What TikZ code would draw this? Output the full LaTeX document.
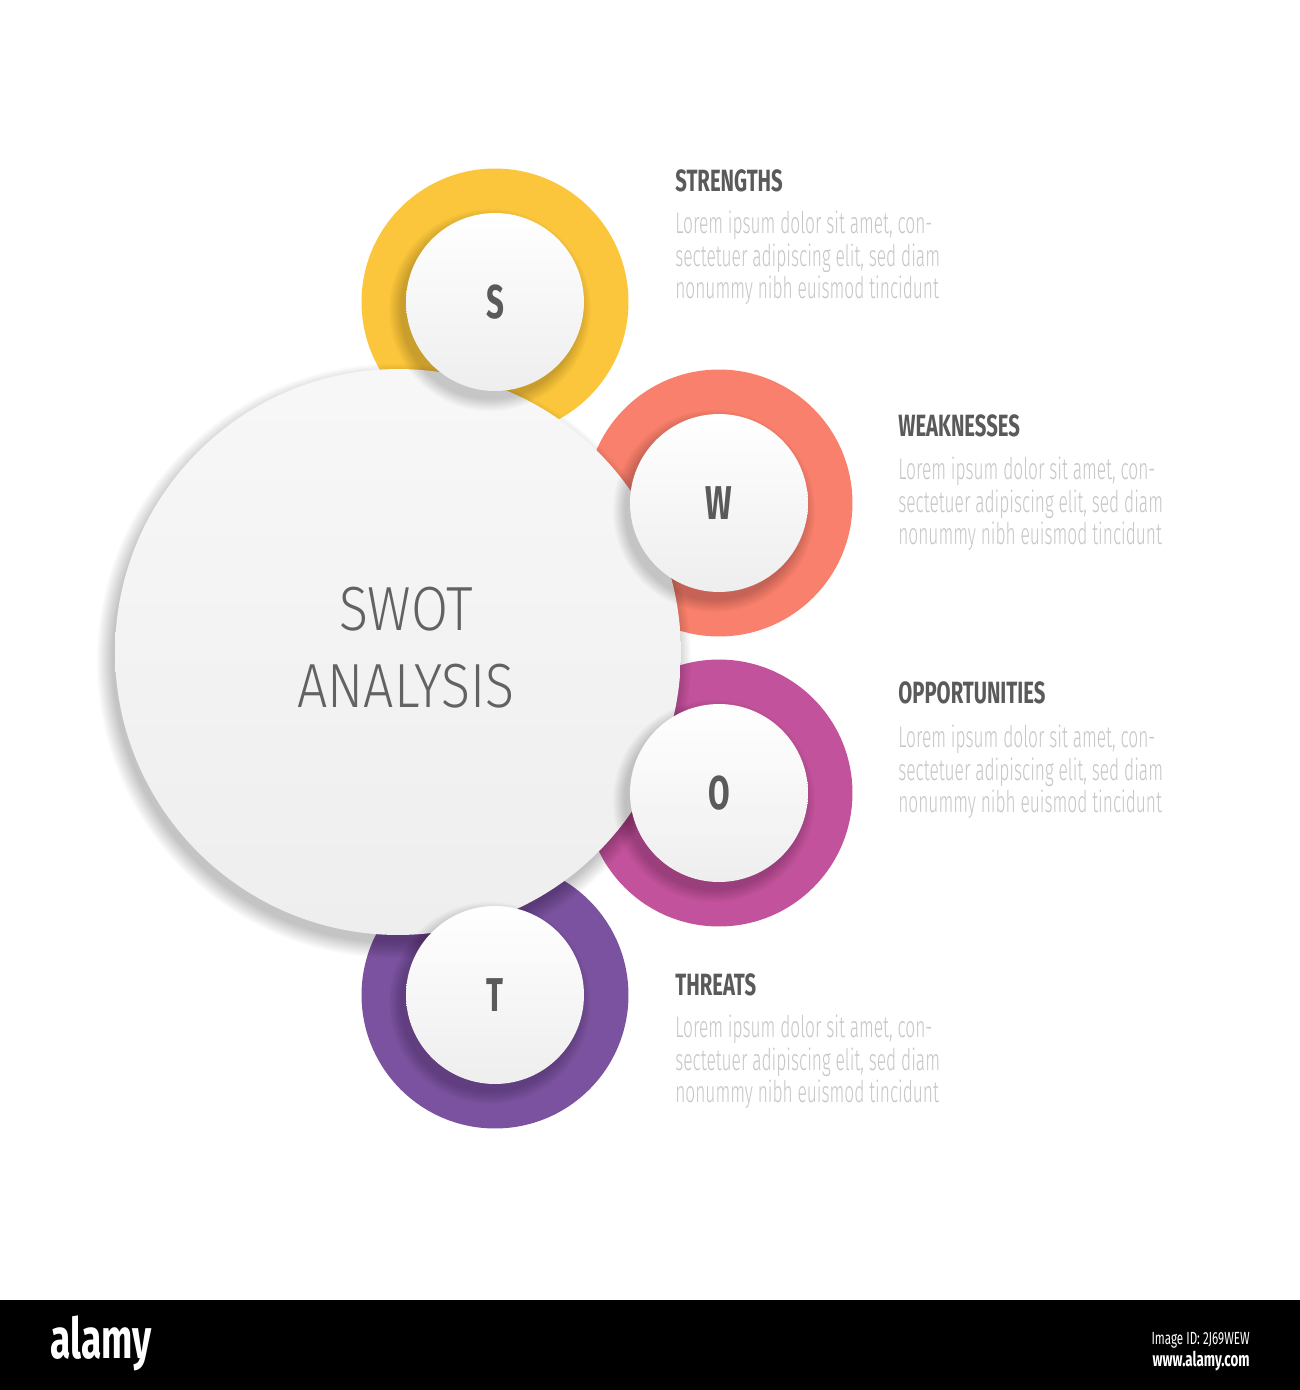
\documentclass[tikz,border=0pt]{standalone}
\usepackage{fontspec}
\setmainfont{Fira Sans}
\newfontfamily\thinfont{Fira Sans Light}[FakeStretch=0.58]
\newfontfamily\titlefont{Fira Sans Light}[FakeStretch=0.86]
\newfontfamily\headfont{Fira Sans}[FakeStretch=0.66]
\usetikzlibrary{positioning}

\definecolor{swotyellow}{HTML}{FCC63C}
\definecolor{swotcoral}{HTML}{F8806C}
\definecolor{swotpink}{HTML}{C2529B}
\definecolor{swotpurple}{HTML}{7B529F}
\definecolor{headgray}{HTML}{5A5A5A}
\definecolor{bodygray}{HTML}{C6C6C6}
\definecolor{titlegray}{HTML}{626262}
\definecolor{discgray}{HTML}{EEEEEE}

\begin{document}
\begin{tikzpicture}[x=0.02cm,y=-0.02cm,
    ring/.style={circle,minimum size=5.34cm,inner sep=0pt},
    disc/.style={circle,minimum size=3.56cm,inner sep=0pt,top color=white,bottom color=discgray,
      text=headgray,font=\headfont\bfseries\fontsize{27}{27}\selectfont},
    hub/.style={circle,minimum size=11.32cm,inner sep=0pt,top color=white!97!black,bottom color=discgray},
    head/.style={anchor=base west,inner sep=0pt,text=headgray,font=\headfont\bfseries\fontsize{17.5}{18}\selectfont},
    body/.style={anchor=north west,inner sep=0pt,align=left,text=bodygray,font=\thinfont\fontsize{17}{18.4}\selectfont}]
  \useasboundingbox (0,0) rectangle (1300,1390);
  \fill[white] (0,0) rectangle (1300,1300);
  \fill[black] (0,1300) rectangle (1300,1390);

  \coordinate (s) at (495,302);
  \coordinate (w) at (719,503);
  \coordinate (o) at (719,793);
  \coordinate (t) at (495,995);
  \coordinate (c) at (398,652);

  % coloured rings
  \node[ring,fill=swotyellow] (sring) at (s) {};
  \node[ring,fill=swotcoral]  (wring) at (w) {};
  \node[ring,fill=swotpink]   (oring) at (o) {};
  \node[ring,fill=swotpurple] (tring) at (t) {};

  % big circle
  \foreach \k in {0,...,11}
    \fill[black,opacity=0.02] ([shift={(-4,9)}]c) circle[radius=283+14-1.4*\k];
  \node[hub] (swot) at (c) {};
  \node[text=titlegray,align=center,inner sep=0pt,font=\titlefont\fontsize{35.5}{43.7}\selectfont]
    (title) at (406,648) {SWOT\\ANALYSIS};

  % letter discs
  \foreach \p in {s,w,o,t}
    \foreach \k in {0,...,9}
      \fill[black,opacity=0.02] ([shift={(-5,8)}]\p) circle[radius=89+12-1.3*\k];
  \node[disc] (sdisc) at (s) {S};
  \node[disc] (wdisc) at (w) {W};
  \node[disc] (odisc) at (o) {O};
  \node[disc] (tdisc) at (t) {T};

  % texts
  \node[head] (shead) at (675,191) {STRENGTHS};
  \node[body] (sbody) at (675,211) {Lorem ipsum dolor sit amet, con-\\sectetuer adipiscing elit, sed diam\\nonummy nibh euismod tincidunt};
  \node[head] (whead) at (898,436) {WEAKNESSES};
  \node[body] (wbody) at (898,457) {Lorem ipsum dolor sit amet, con-\\sectetuer adipiscing elit, sed diam\\nonummy nibh euismod tincidunt};
  \node[head] (ohead) at (898,703) {OPPORTUNITIES};
  \node[body] (obody) at (898,725) {Lorem ipsum dolor sit amet, con-\\sectetuer adipiscing elit, sed diam\\nonummy nibh euismod tincidunt};
  \node[head] (thead) at (675,995) {THREATS};
  \node[body] (tbody) at (675,1015) {Lorem ipsum dolor sit amet, con-\\sectetuer adipiscing elit, sed diam\\nonummy nibh euismod tincidunt};

  % footer band
  \node[anchor=base west,inner sep=0pt,text=white,font=\headfont\bfseries\fontsize{32}{32}\selectfont]
    (logo) at (50,1358) {alamy};
  \node[anchor=base east,inner sep=0pt,text=white,font=\headfont\fontsize{10}{10}\selectfont]
    (imgid) at (1250,1344) {Image ID: 2J69WEW};
  \node[anchor=base east,inner sep=0pt,text=white,font=\headfont\bfseries\fontsize{11.5}{12}\selectfont]
    (site) at (1250,1366) {www.alamy.com};
\end{tikzpicture}
\end{document}
